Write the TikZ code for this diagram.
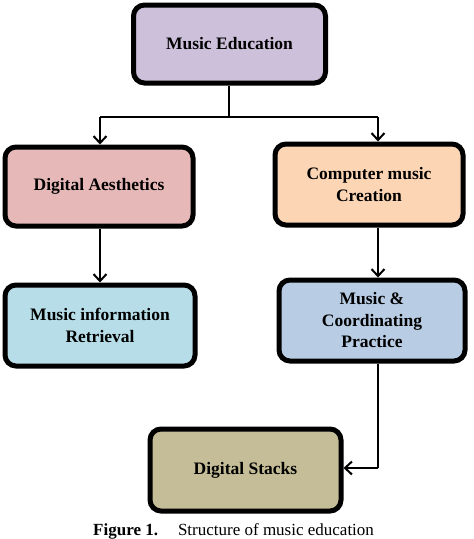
\documentclass[tikz,border=0pt]{standalone}
\usepackage{fontspec}
\setmainfont{Liberation Serif}
\usetikzlibrary{arrows.meta,positioning}
\definecolor{cME}{HTML}{CCC0DA}
\definecolor{cDA}{HTML}{E6B8B7}
\definecolor{cCM}{HTML}{FCD5B4}
\definecolor{cMI}{HTML}{B7DEE8}
\definecolor{cMC}{HTML}{B8CCE4}
\definecolor{cDS}{HTML}{C4BD97}
\tikzset{
  box/.style={draw=black, line width=5pt, rounded corners=11pt, align=center,
    font=\fontsize{17.5}{21.5}\selectfont\bfseries, inner sep=0pt},
  conn/.style={line width=2pt, -{Straight Barb[length=7pt,width=13pt,line width=2pt]}},
  plain/.style={line width=2pt}
}
\begin{document}
\begin{tikzpicture}[x=1pt,y=-1pt]
\useasboundingbox (0,0) rectangle (474,539);
\node[box, fill=cME, minimum width=192pt, minimum height=78pt] (me) at (229.5,44) {Music Education};
\node[box, fill=cDA, minimum width=188pt, minimum height=79pt] (da) at (99,186.5) {Digital Aesthetics};
\node[box, fill=cCM, minimum width=188pt, minimum height=81pt] (cm) at (369,184.5) {Computer music\\Creation};
\node[box, fill=cMI, minimum width=190pt, minimum height=81pt] (mi) at (100,325.5) {Music information\\Retrieval};
\node[box, fill=cMC, minimum width=186pt, minimum height=81pt] (mc) at (372,320.5) {Music \&\\Coordinating\\Practice};
\node[box, fill=cDS, minimum width=191pt, minimum height=82pt] (ds) at (245.5,470) {Digital Stacks};
\coordinate (j) at (229,117);
\coordinate (jl) at (100,117);
\coordinate (jr) at (378,117);
\coordinate (k) at (378,468);
\draw[plain] (me.south -| j) -- (j);
\draw[plain] (jl) -- (jr);
\draw[conn] (jl) -- (jl |- da.north);
\draw[conn] (jr) -- (jr |- cm.north);
\draw[conn] (da.south -| jl) -- (mi.north -| jl);
\draw[conn] (cm.south -| jr) -- (mc.north -| jr);
\draw[plain] (mc.south -| k) -- (k);
\draw[conn] (k) -- (k -| ds.east);
\node[anchor=base west, inner sep=0pt, font=\fontsize{17}{19}\selectfont] (cap) at (93,535) {\textbf{Figure 1.}\hspace{20pt}Structure of music education};
\end{tikzpicture}
\end{document}
